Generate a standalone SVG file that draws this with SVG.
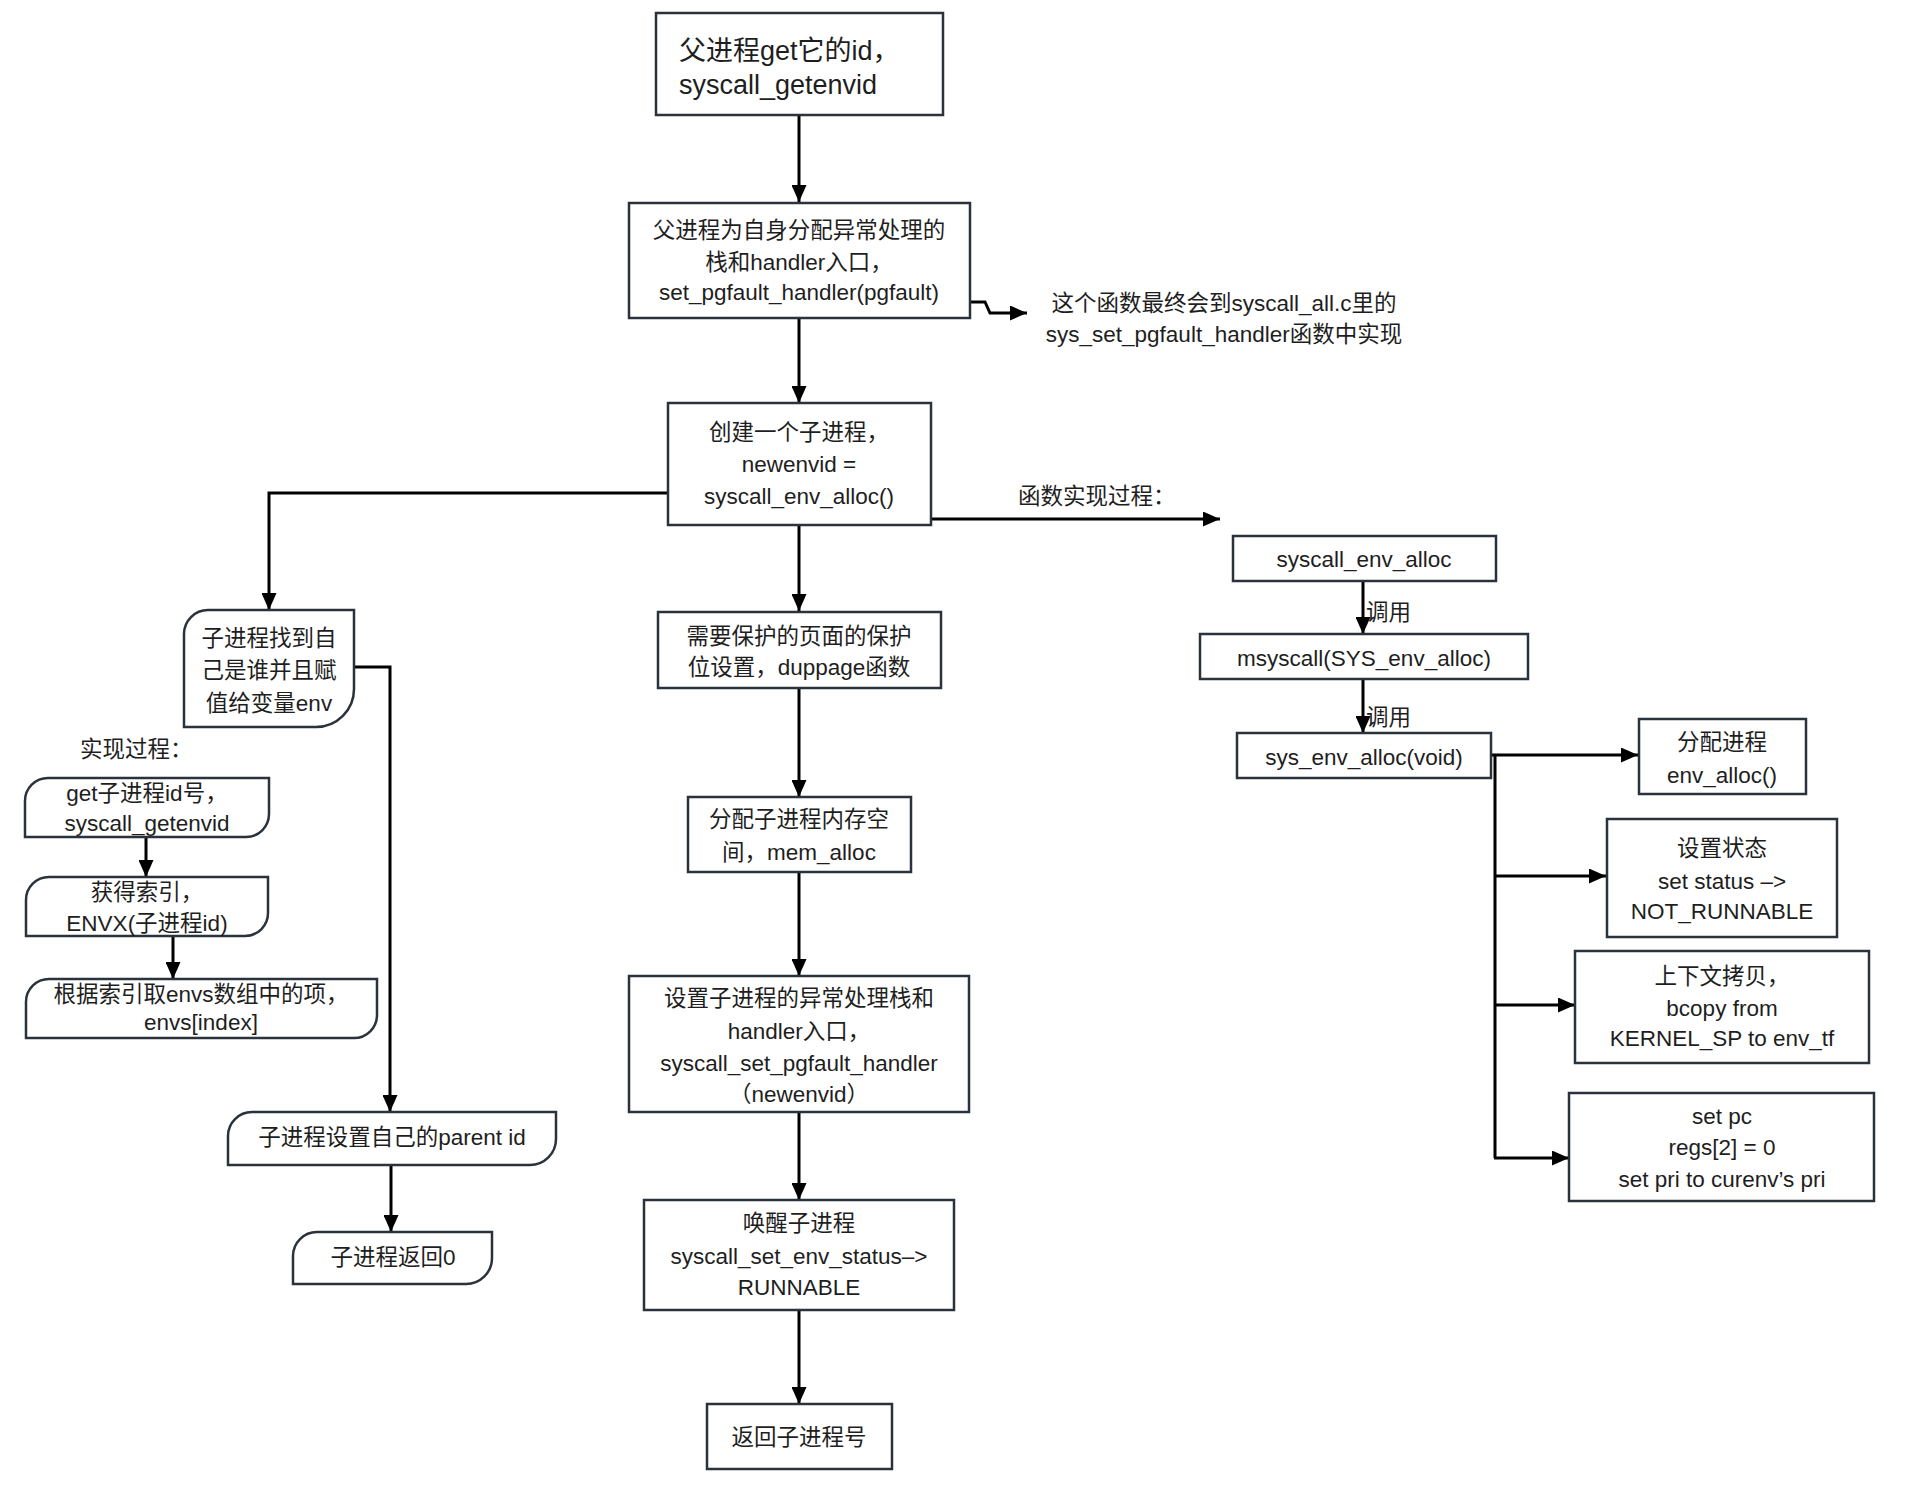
<svg xmlns="http://www.w3.org/2000/svg" width="1906" height="1508" viewBox="0 0 1906 1508">
<style>
.b{fill:#fff;stroke:#2a323c;stroke-width:2.5}
.t{font-family:"Liberation Sans","Noto Sans CJK SC",sans-serif;font-size:22.5px;fill:#1e1e1e;text-anchor:middle}
.l{text-anchor:start}
.c{fill:none;stroke:#000;stroke-width:3}
</style>
<defs>
<marker id="a" markerUnits="userSpaceOnUse" markerWidth="17" markerHeight="15" refX="17" refY="7.5" orient="auto"><path d="M0,0 L17,7.5 L0,15 z" fill="#000"/></marker>
</defs>
<rect width="1906" height="1508" fill="#fff"/>
<g id="connectors">
<path class="c" d="M799,115 V202" marker-end="url(#a)"/>
<path class="c" d="M799,318 V403" marker-end="url(#a)"/>
<path class="c" d="M799,525 V611" marker-end="url(#a)"/>
<path class="c" d="M799,688 V797" marker-end="url(#a)"/>
<path class="c" d="M799,872 V976" marker-end="url(#a)"/>
<path class="c" d="M799,1112 V1200" marker-end="url(#a)"/>
<path class="c" d="M799,1310 V1404" marker-end="url(#a)"/>
<path class="c" d="M957,302 H985 L990,313 H1027" marker-end="url(#a)"/>
<path class="c" d="M668,493 H269 V610" marker-end="url(#a)"/>
<path class="c" d="M354,667 H390 V1112" marker-end="url(#a)"/>
<path class="c" d="M391,1165 V1232" marker-end="url(#a)"/>
<path class="c" d="M146,837 V877" marker-end="url(#a)"/>
<path class="c" d="M173,936 V979" marker-end="url(#a)"/>
<path class="c" d="M931,519 H1220" marker-end="url(#a)"/>
<path class="c" d="M1363,581 V634" marker-end="url(#a)"/>
<path class="c" d="M1363,679 V733" marker-end="url(#a)"/>
<path class="c" d="M1489,755 H1638" marker-end="url(#a)"/>
<path class="c" d="M1495,755 V1158"/>
<path class="c" d="M1494,876 H1606" marker-end="url(#a)"/>
<path class="c" d="M1494,1005 H1575" marker-end="url(#a)"/>
<path class="c" d="M1494,1158 H1569" marker-end="url(#a)"/>
<text class="t l" x="1018" y="504">函数实现过程：</text>
<text class="t l" x="1366" y="620">调用</text>
<text class="t l" x="1366" y="725">调用</text>
</g>
<g id="n1"><rect class="b" x="656" y="13" width="287" height="102"/>
<text class="t l" x="679" y="60" style="font-size:27px">父进程get它的id，</text>
<text class="t l" x="679" y="94" style="font-size:27px">syscall_getenvid</text></g>
<g id="n2"><rect class="b" x="629" y="203" width="341" height="115"/>
<text class="t" x="799" y="238">父进程为自身分配异常处理的</text>
<text class="t" x="799" y="270">栈和handler入口，</text>
<text class="t" x="799" y="300">set_pgfault_handler(pgfault)</text></g>
<g id="note"><text class="t" x="1224" y="311">这个函数最终会到syscall_all.c里的</text>
<text class="t" x="1224" y="342">sys_set_pgfault_handler函数中实现</text></g>
<g id="n3"><rect class="b" x="668" y="403" width="263" height="122"/>
<text class="t" x="799" y="440">创建一个子进程，</text>
<text class="t" x="799" y="472">newenvid =</text>
<text class="t" x="799" y="504">syscall_env_alloc()</text></g>
<g id="n4"><rect class="b" x="658" y="612" width="283" height="76"/>
<text class="t" x="799" y="644">需要保护的页面的保护</text>
<text class="t" x="799" y="675">位设置，duppage函数</text></g>
<g id="n5"><rect class="b" x="688" y="797" width="223" height="75"/>
<text class="t" x="799" y="827">分配子进程内存空</text>
<text class="t" x="799" y="860">间，mem_alloc</text></g>
<g id="n6"><rect class="b" x="629" y="976" width="340" height="136"/>
<text class="t" x="799" y="1006">设置子进程的异常处理栈和</text>
<text class="t" x="799" y="1039">handler入口，</text>
<text class="t" x="799" y="1071">syscall_set_pgfault_handler</text>
<text class="t" x="799" y="1102">（newenvid）</text></g>
<g id="n7"><rect class="b" x="644" y="1200" width="310" height="110"/>
<text class="t" x="799" y="1231">唤醒子进程</text>
<text class="t" x="799" y="1264">syscall_set_env_status–&gt;</text>
<text class="t" x="799" y="1295">RUNNABLE</text></g>
<g id="n8"><rect class="b" x="707" y="1404" width="185" height="65"/>
<text class="t" x="799" y="1445">返回子进程号</text></g>
<g id="cA"><path class="b" d="M184,727 V634 A24,24 0 0 1 208,610 H354 V689 A38,38 0 0 1 316,727 Z"/>
<text class="t" x="269" y="646">子进程找到自</text>
<text class="t" x="269" y="678">己是谁并且赋</text>
<text class="t" x="269" y="711">值给变量env</text></g>
<g id="impl"><text class="t l" x="80" y="757">实现过程：</text></g>
<g id="cB"><path class="b" d="M25,837 V801 A23,23 0 0 1 48,778 H269 V814 A23,23 0 0 1 246,837 Z"/>
<text class="t" x="147" y="801">get子进程id号，</text>
<text class="t" x="147" y="831">syscall_getenvid</text></g>
<g id="cC"><path class="b" d="M26,936 V900 A23,23 0 0 1 49,877 H268 V913 A23,23 0 0 1 245,936 Z"/>
<text class="t" x="147" y="900">获得索引，</text>
<text class="t" x="147" y="931">ENVX(子进程id)</text></g>
<g id="cD"><path class="b" d="M26,1038 V1002 A23,23 0 0 1 49,979 H377 V1015 A23,23 0 0 1 354,1038 Z"/>
<text class="t" x="201" y="1002">根据索引取envs数组中的项，</text>
<text class="t" x="201" y="1030">envs[index]</text></g>
<g id="cE"><path class="b" d="M228,1165 V1136 A24,24 0 0 1 252,1112 H556 V1139 A26,26 0 0 1 530,1165 Z"/>
<text class="t" x="392" y="1145">子进程设置自己的parent id</text></g>
<g id="cF"><path class="b" d="M293,1284 V1256 A24,24 0 0 1 317,1232 H492 V1258 A26,26 0 0 1 466,1284 Z"/>
<text class="t" x="393" y="1265">子进程返回0</text></g>
<g id="r1"><rect class="b" x="1233" y="536" width="263" height="45"/>
<text class="t" x="1364" y="567">syscall_env_alloc</text></g>
<g id="r2"><rect class="b" x="1200" y="634" width="328" height="45"/>
<text class="t" x="1364" y="666">msyscall(SYS_env_alloc)</text></g>
<g id="r3"><rect class="b" x="1237" y="733" width="254" height="45"/>
<text class="t" x="1364" y="765">sys_env_alloc(void)</text></g>
<g id="s1"><rect class="b" x="1639" y="719" width="167" height="75"/>
<text class="t" x="1722" y="750">分配进程</text>
<text class="t" x="1722" y="783">env_alloc()</text></g>
<g id="s2"><rect class="b" x="1607" y="819" width="230" height="118"/>
<text class="t" x="1722" y="856">设置状态</text>
<text class="t" x="1722" y="889">set status –&gt;</text>
<text class="t" x="1722" y="919">NOT_RUNNABLE</text></g>
<g id="s3"><rect class="b" x="1575" y="951" width="294" height="112"/>
<text class="t" x="1722" y="984">上下文拷贝，</text>
<text class="t" x="1722" y="1016">bcopy from</text>
<text class="t" x="1722" y="1046">KERNEL_SP to env_tf</text></g>
<g id="s4"><rect class="b" x="1569" y="1093" width="305" height="108"/>
<text class="t" x="1722" y="1124">set pc</text>
<text class="t" x="1722" y="1155">regs[2] = 0</text>
<text class="t" x="1722" y="1187">set pri to curenv’s pri</text></g>
</svg>
